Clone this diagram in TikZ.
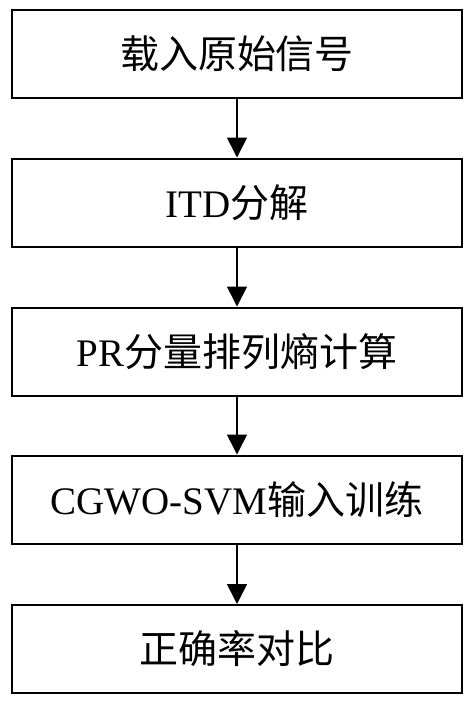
\documentclass[tikz,border=0pt]{standalone}
\usepackage{fontspec}
\setmainfont{Liberation Serif}
\newfontfamily\cjk{Noto Sans CJK SC}
\usetikzlibrary{arrows.meta}
\tikzset{
  stepbox/.style={draw=black, line width=2pt, minimum width=450pt, minimum height=88pt, inner sep=0pt, font=\fontsize{39pt}{44pt}\selectfont},
  flow/.style={line width=1.6pt, -{Triangle[width=20pt,length=20pt]}}
}
\begin{document}
\begin{tikzpicture}[x=1pt,y=-1pt]
\useasboundingbox (0,0) rectangle (474,705);
\node[stepbox] (s1) at (237,54) {\cjk 载入原始信号};
\node[stepbox] (s2) at (237,202.5) {ITD{\cjk 分解}};
\node[stepbox] (s3) at (237,351.5) {PR{\cjk 分量排列熵计算}};
\node[stepbox] (s4) at (237,499.5) {CGWO-SVM{\cjk 输入训练}};
\node[stepbox] (s5) at (237,649) {\cjk 正确率对比};
\draw[flow] (s1) -- (s2);
\draw[flow] (s2) -- (s3);
\draw[flow] (s3) -- (s4);
\draw[flow] (s4) -- (s5);
\end{tikzpicture}
\end{document}
